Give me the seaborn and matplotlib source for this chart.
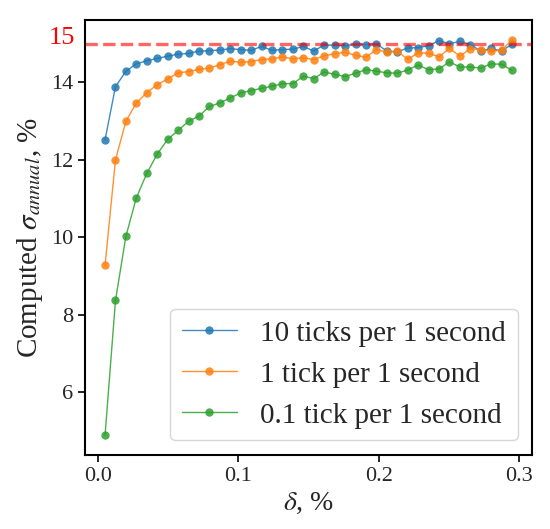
import numpy as np
import pandas as pd
import seaborn as sns
import matplotlib.pyplot as plt

# delta grid, %
delta = np.linspace(0.005, 0.295, 40)

# computed sigma_annual, %
sigma_10 = [12.52, 13.89, 14.29, 14.48, 14.56, 14.62, 14.68, 14.73, 14.75, 14.81,
            14.82, 14.84, 14.87, 14.85, 14.83, 14.93, 14.83, 14.85, 14.86, 14.93,
            14.81, 14.97, 14.96, 14.95, 14.99, 14.98, 15.00, 14.81, 14.79, 14.89,
            14.90, 14.95, 15.08, 15.00, 15.06, 14.98, 14.81, 14.88, 14.81, 14.99]
sigma_1 = [9.28, 12.00, 13.00, 13.47, 13.74, 13.94, 14.09, 14.25, 14.28, 14.34,
           14.37, 14.46, 14.55, 14.52, 14.54, 14.59, 14.61, 14.66, 14.61, 14.64,
           14.59, 14.69, 14.74, 14.78, 14.70, 14.65, 14.85, 14.78, 14.81, 14.60,
           14.76, 14.76, 14.66, 14.88, 14.68, 14.87, 14.85, 14.81, 14.83, 15.10]
sigma_01 = [4.89, 8.37, 10.03, 11.02, 11.65, 12.15, 12.53, 12.76, 13.00, 13.13,
            13.38, 13.47, 13.60, 13.73, 13.79, 13.85, 13.90, 13.97, 13.97, 14.16,
            14.10, 14.27, 14.21, 14.15, 14.24, 14.33, 14.29, 14.25, 14.24, 14.32,
            14.45, 14.33, 14.35, 14.53, 14.40, 14.40, 14.37, 14.48, 14.47, 14.31]

etiquetas = ["10 ticks per 1 second", "1 tick per 1 second", "0.1 tick per 1 second"]
sigma_real = 15


def crear_df():
    partes = []
    for nombre, valores in zip(etiquetas, [sigma_10, sigma_1, sigma_01]):
        partes.append(pd.DataFrame({"delta": delta, "sigma": valores, "serie": nombre}))
    return pd.concat(partes, ignore_index=True)


def main():
    sns.set_style("ticks")
    plt.rcParams["font.family"] = ["Liberation Serif", "DejaVu Serif"]
    plt.rcParams["mathtext.fontset"] = "stix"

    df = crear_df()

    fig = plt.figure(figsize=(5.5, 5.29), dpi=100)
    ax = fig.add_axes([0.154, 0.140, 0.814, 0.822])

    colores = sns.color_palette("tab10", 3)
    for nombre, color in zip(etiquetas, colores):
        sns.lineplot(data=df[df["serie"] == nombre], x="delta", y="sigma", ax=ax,
                     color=color, marker="o", markersize=6, markeredgewidth=0,
                     linewidth=1, alpha=0.85, label=nombre)

    ax.axhline(sigma_real, color="red", alpha=0.6, linewidth=2.4, linestyle="--")
    ax.text(-0.022, sigma_real, "15", color="red", fontsize=19, ha="right",
            va="baseline", transform=ax.get_yaxis_transform())

    ax.set_xticks([0.0, 0.1, 0.2, 0.3])
    ax.set_yticks([6, 8, 10, 12, 14])
    ax.tick_params(labelsize=16, width=1.2, length=5, color="black")
    for s in ax.spines.values():
        s.set_linewidth(1.5)
        s.set_color("black")

    ax.set_xlabel(r"$\delta$, %", fontsize=20)
    ax.set_ylabel(r"Computed $\sigma_{annual}$, %", fontsize=21)

    ax.legend(loc="lower right", fontsize=21, handlelength=1.9, borderaxespad=0.5)

    fig.savefig("out.png", dpi=100)


if __name__ == "__main__":
    main()
